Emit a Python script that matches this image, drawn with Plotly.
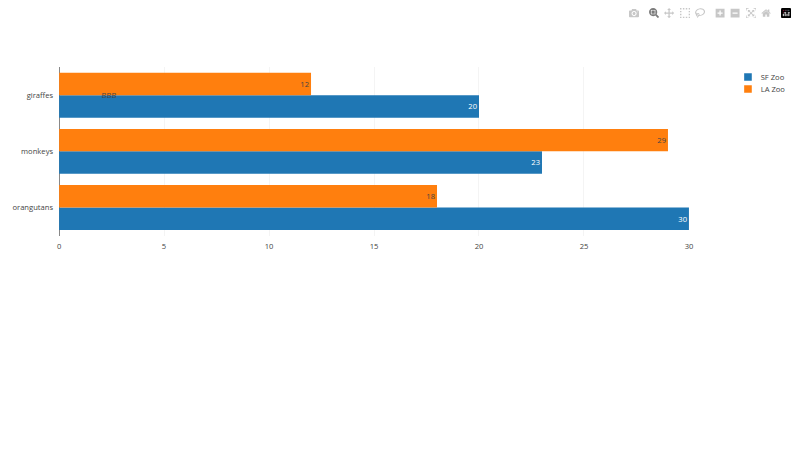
import plotly.graph_objects as go

animals = ["orangutans", "monkeys", "giraffes"]
sf_zoo = [30, 23, 20]
la_zoo = [18, 29, 12]
note_text = "BBB"
note_x = 2.4
note_y = "giraffes"

fig = go.Figure()
fig.add_trace(go.Bar(y=animals, x=sf_zoo, name="SF Zoo", orientation="h",
                     text=sf_zoo, textposition="auto"))
fig.add_trace(go.Bar(y=animals, x=la_zoo, name="LA Zoo", orientation="h",
                     text=la_zoo, textposition="auto"))

fig.add_annotation(x=note_x, y=note_y, text=note_text, showarrow=False)

# the reference is a big page shrunk to 800 wide, so draw it big and zoom the page out
fig.update_layout(
    template="none",
    barmode="group",
    width=1260,
    height=701,
    margin=dict(l=93, r=175, t=98, b=338),
    font=dict(family="Open Sans", size=12),
    legend=dict(x=1.0735, y=0.997),
    xaxis=dict(range=[0, 30], dtick=5, ticks="outside", ticklen=6, tickcolor="rgba(0,0,0,0)"),
    yaxis=dict(ticks="outside", ticklen=6, tickcolor="rgba(0,0,0,0)"),
)

shrink = ("document.body.style.margin='8px 0 0 0';"
          "document.documentElement.style.zoom='0.635';"
          "document.querySelector('.modebar').style.right='10px';")
fig.write_html("out.html", config=dict(displayModeBar=True), post_script=shrink)
